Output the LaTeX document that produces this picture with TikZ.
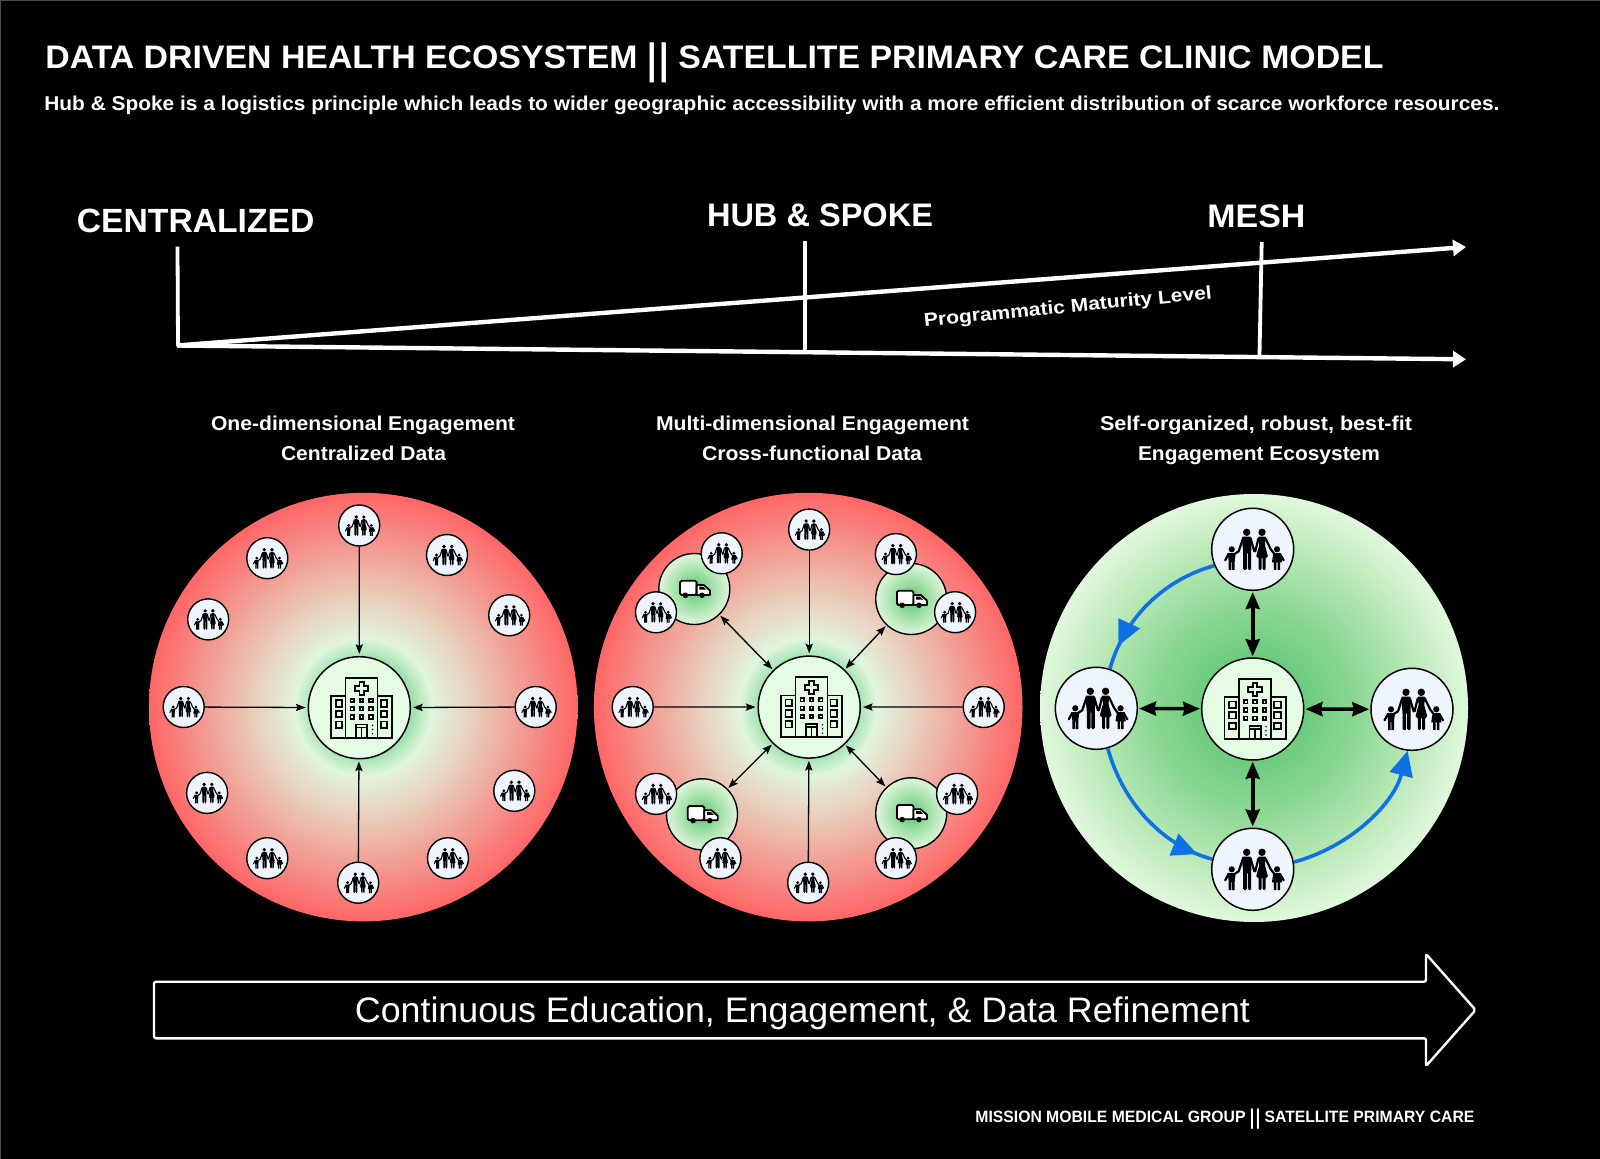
\documentclass[tikz,border=0pt]{standalone}
\usepackage{graphicx}
\usepackage{fontspec}
\setmainfont{Liberation Sans}
\usetikzlibrary{arrows.meta,decorations.markings}
\definecolor{rA}{HTML}{A2E2B0}\definecolor{rB}{HTML}{B4E8BE}\definecolor{rC}{HTML}{E0F5DE}
\definecolor{rD}{HTML}{E3EBD6}\definecolor{rE}{HTML}{E8D3BF}\definecolor{rF}{HTML}{F4918A}\definecolor{rG}{HTML}{FF6666}
\definecolor{gA}{HTML}{62C878}\definecolor{gB}{HTML}{6CCB7E}\definecolor{gC}{HTML}{8AD792}\definecolor{gD}{HTML}{B0E5B0}\definecolor{gF}{HTML}{D0F1CC}\definecolor{gE}{HTML}{E0F8DC}
\definecolor{sA}{HTML}{58C472}\definecolor{sB}{HTML}{A0E0A8}\definecolor{sC}{HTML}{DFF6DA}
\definecolor{hubfill}{HTML}{E4FBE4}\definecolor{famfill}{HTML}{EEF5FF}\definecolor{flowblue}{HTML}{1070E4}
\pgfdeclareradialshading{redfield}{\pgfpoint{0bp}{0bp}}{color(0bp)=(rA);color(5.95bp)=(rA);color(6.45bp)=(rB);color(8bp)=(rC);color(9.2bp)=(rD);color(12.25bp)=(rE);color(19.85bp)=(rF);color(25bp)=(rG);color(50bp)=(rG)}
\pgfdeclareradialshading{greenfield}{\pgfpoint{0bp}{0bp}}{color(0bp)=(gA);color(6bp)=(gB);color(11.7bp)=(gC);color(17.5bp)=(gD);color(22.2bp)=(gF);color(25bp)=(gE);color(50bp)=(gE)}
\pgfdeclareradialshading{satfield}{\pgfpoint{0bp}{0bp}}{color(0bp)=(sA);color(12.5bp)=(sB);color(25bp)=(sC);color(50bp)=(sC)}
\newcommand\fitw[3]{\fontsize{#1}{#1}\selectfont\bfseries\resizebox{#2}{\height}{#3}}
\newcommand\tallbars{\raisebox{-.17em}{\scalebox{1}[1.3]{|\kern.09em|}}}
\tikzset{
  lab/.style={text=white,inner sep=0pt,anchor=base west},
  clab/.style={text=white,inner sep=0pt,anchor=base},
  redbig/.style={circle,shading=redfield,minimum size=214.3pt,inner sep=0pt},
  greenbig/.style={circle,shading=greenfield,minimum size=214pt,inner sep=0pt},
  sat/.style={circle,shading=satfield,draw=black,line width=.7pt,minimum size=35.5pt,inner sep=0pt},
  hubnode/.style={circle,draw=black,fill=hubfill,line width=.75pt,minimum size=51pt,inner sep=0pt},
  famS/.style={circle,draw=black,fill=famfill,line width=.7pt,minimum size=20.5pt,inner sep=0pt},
  famL/.style={circle,draw=black,fill=famfill,line width=.75pt,minimum size=41pt,inner sep=0pt},
  thin arrow/.style={draw=black,line width=.65pt,-{Stealth[length=4.8pt,width=3.6pt,inset=.8pt]},shorten >=1pt},
  thin both/.style={draw=black,line width=.65pt,{Stealth[length=4.8pt,width=3.6pt,inset=.8pt]}-{Stealth[length=4.8pt,width=3.6pt,inset=.8pt]},shorten >=.6pt,shorten <=.6pt},
  thick both/.style={draw=black,line width=1.8pt,{Stealth[length=8.5pt,width=7pt,inset=.8pt]}-{Stealth[length=8.5pt,width=7pt,inset=.8pt]},shorten >=.5pt,shorten <=.5pt},
  flow/.style={draw=flowblue,line width=1.8pt},
  whitearrow/.style={draw=white,line width=2.2pt,-{Triangle[length=6.5pt,width=8pt]}},
  whitetick/.style={draw=white,line width=1.9pt},
  pics/family/.style={code={
    \fill (-6,-17) circle (3.7) (9.3,-17) circle (3.7) (-21,0) circle (3.1) (24.3,0) circle (3.1);
    % man
    \fill[rounded corners=.6pt] (-11,-12.6) -- (-1.2,-12.6) -- (-1.5,3) -- (-1.5,20.7) -- (-4.9,20.7) -- (-4.9,3) -- (-5.8,3) -- (-5.8,20.7) -- (-9.5,20.7) -- (-9.5,3) -- cycle;
    % woman
    \fill[rounded corners=.6pt] (5,-12.6) -- (13.8,-12.6) -- (12,-5) -- (15.5,8) -- (13,8) -- (13,20.7) -- (10,20.7) -- (10,8) -- (8.9,8) -- (8.9,20.7) -- (5.8,20.7) -- (5.8,8) -- (3.2,8) -- (6.8,-5) -- cycle;
    % left child
    \fill (-25,3.8) -- (-17,3.8) -- (-18,12) -- (-18,20.7) -- (-20.6,20.7) -- (-20.6,13) -- (-21.4,13) -- (-21.4,20.7) -- (-24,20.7) -- (-24,12) -- cycle;
    % right child
    \fill (20.6,3.8) -- (28,3.8) -- (29.5,13) -- (27.4,13) -- (27.4,20.7) -- (24.9,20.7) -- (24.9,13) -- (23.7,13) -- (23.7,20.7) -- (21.2,20.7) -- (21.2,13) -- (19.2,13) -- cycle;
    % arms
    \draw[line width=#1,line cap=round,line join=round] (-24,4.5) -- (-27.5,11) (-18,4.5) -- (-14,2) -- (-9.9,-10.5) (-2,-10.5) -- (1.6,2) (5.6,-10.5) -- (2.6,2) (13,-10.5) -- (18,0) -- (21.5,4.5) (27.2,4.5) -- (31,11);
  }},
  pics/hospital/.style={code={
    \begin{scope}[line width=.85pt,draw=black]
    \draw (-28.3,-11.7) rectangle (-13.7,30);
    \draw (-13.7,-30) rectangle (18.3,30);
    \draw (18.3,-11.7) rectangle (33,30);
    \draw (.1,-26) -- (4.5,-26) -- (4.5,-21.8) -- (9,-21.8) -- (9,-17) -- (4.5,-17) -- (4.5,-12.8) -- (.1,-12.8) -- (.1,-17) -- (-4.4,-17) -- (-4.4,-21.8) -- (.1,-21.8) -- cycle;
    \foreach \wy in {-4.3,6.3,17}{\draw (-23.6,\wy-3.3) rectangle (-17,\wy+3.3);\draw (21.4,\wy-3.3) rectangle (28,\wy+3.3);}
    \foreach \wx in {-7,2.3,11.7}{\foreach \wy in {-7.3,1,9.3}{\draw (\wx-1.7,\wy-1.7) rectangle (\wx+1.7,\wy+1.7);}}
    \draw (-3.3,30) -- (-3.3,16.7) -- (8,16.7) -- (8,30) (-3.3,19.8) -- (8,19.8) (2.3,19.8) -- (2.3,30);
    \fill (13.3,17.7) circle (.8) (13.3,21.7) circle (.8) (13.3,26) circle (.8);
    \end{scope}
  }},
  pics/truck/.style={code={
    \draw[line width=.9pt,fill=white,rounded corners=.8pt] (-14.3,-8.3) rectangle (2.3,6);
    \draw[line width=.9pt,fill=white,line join=round] (2.3,6) -- (2.3,-4) -- (9.5,-4) -- (15.7,1.5) -- (15.7,6) -- cycle;
    \fill (5,-2.3) -- (8.8,-2.3) -- (12,.6) -- (5,.6) -- cycle;
    \fill (-9,6.3) circle (2.8) (7.7,6.3) circle (2.8);
  }}
}
\begin{document}
\begin{tikzpicture}[x=.5pt,y=-.5pt]
\useasboundingbox (0,0) rectangle (1600,1159);
\fill[black] (0,0) rectangle (1600,1159);
\fill[black!70!white] (0,0) rectangle (1600,1) (0,0) rectangle (1,1159);

% headings
\node[lab] (title) at (45,68.3) {\fitw{16.3pt}{669pt}{DATA DRIVEN HEALTH ECOSYSTEM \tallbars{} SATELLITE PRIMARY CARE CLINIC MODEL}};
\node[lab] (sub) at (44,111) {\fitw{10pt}{727.5pt}{Hub \& Spoke is a logistics principle which leads to wider geographic accessibility with a more efficient distribution of scarce workforce resources.}};
\node[lab] (lcent) at (76.5,233) {\fitw{16.8pt}{118.75pt}{CENTRALIZED}};
\node[lab] (lhub) at (706.6,227) {\fitw{16.3pt}{113pt}{HUB \& SPOKE}};
\node[lab] (lmesh) at (1207,228) {\fitw{16.3pt}{49pt}{MESH}};

% maturity wedge
\coordinate (w0) at (177,345.5);
\coordinate (wu) at (1466,247);
\coordinate (wl) at (1466,359.3);
\coordinate (c1t) at (177.5,246.7); \coordinate (c1b) at (178,346);
\coordinate (c2t) at (805,240.7);   \coordinate (c2b) at (805,351);
\coordinate (c3t) at (1261.7,242);  \coordinate (c3b) at (1259.5,355);
\draw[whitearrow] (w0) -- (wu);
\draw[whitearrow] (w0) -- (wl);
\draw[whitetick] (c1t) -- (c1b);
\draw[whitetick] (c2t) -- (c2b);
\draw[whitetick] (c3t) -- (c3b);
\node[text=white,inner sep=0pt,rotate=5.5] (lmat) at (1068,308) {\fitw{9.3pt}{144.5pt}{Programmatic Maturity Level}};

% column captions
\node[clab] (a1) at (363,431) {\fitw{10pt}{152pt}{One-dimensional Engagement}};
\node[clab] (a2) at (363.5,460.7) {\fitw{10pt}{82.5pt}{Centralized Data}};
\node[clab] (b1) at (812.5,431) {\fitw{10pt}{156.5pt}{Multi-dimensional Engagement}};
\node[clab] (b2) at (812,460.7) {\fitw{10pt}{110pt}{Cross-functional Data}};
\node[clab] (d1) at (1256,431) {\fitw{10pt}{156pt}{Self-organized, robust, best-fit}};
\node[clab] (d2) at (1259,460.7) {\fitw{10pt}{121pt}{Engagement Ecosystem}};

% circle 1: centralized
\node[redbig] (fieldA) at (363.3,707.1) {};
\node[hubnode] (hubA) at (359.3,707.7) {};
\pic at (hubA) {hospital};
\foreach \n/\x/\y in {At/359.2/525.5,Ab/447/555,Ac/509.2/615.3,Ar/535.7/707,Ad/514.3/790.8,Ae/448/858.2,Abt/358.2/882.7,Af/267.3/858.2,Ag/207.1/792.9,Al/183.7/707,Ah/208.2/619.4,Ai/267.3/558.2}{
  \node[famS] (\n) at (\x,\y) {};
  \pic[scale=.5] at (\n) {family=.55pt};
}
\draw[thin arrow] (At) -- (hubA);
\draw[thin arrow] (Ar) -- (hubA);
\draw[thin arrow] (Abt) -- (hubA);
\draw[thin arrow] (Al) -- (hubA);

% circle 2: hub and spoke
\node[redbig] (fieldB) at (808.2,707.1) {};
\foreach \n/\x/\y in {S1/694.3/589,S2/911.2/599,S3/702/814.3,S4/911.2/813.3}{
  \node[sat] (\n) at (\x,\y) {};
  \pic at (\n) {truck};
}
\node[hubnode] (hubB) at (809.2,707.1) {};
\pic at (hubB) {hospital};
\foreach \n/\x/\y in {Bt/809.2/529.6,Br/983.7/707,Bb/808.2/882.7,Bl/632.7/707,P1/721.7/553.3,P2/656/612.3,P3/895.9/554.1,P4/955.1/612.2,P5/656.1/793.9,P6/720.4/858.2,P7/957.1/793.9,P8/895.9/858.2}{
  \node[famS] (\n) at (\x,\y) {};
  \pic[scale=.5] at (\n) {family=.55pt};
}
\draw[thin arrow] (Bt) -- (hubB);
\draw[thin arrow] (Br) -- (hubB);
\draw[thin arrow] (Bb) -- (hubB);
\draw[thin arrow] (Bl) -- (hubB);
\draw[thin both] (S1) -- (hubB);
\draw[thin both] (S2) -- (hubB);
\draw[thin both] (S3) -- (hubB);
\draw[thin both] (S4) -- (hubB);

% circle 3: mesh
\node[greenbig] (fieldC) at (1254,708) {};
\node[hubnode] (hubC) at (1252.7,709) {};
\pic at (hubC) {hospital};
\foreach \n/\x/\y in {Ct/1252.7/549.3,Cl/1096.3/708.3,Cr/1412/709.3,Cb/1252.7/869.3}{
  \node[famL] (\n) at (\x,\y) {};
  \pic at (\n) {family=1.1pt};
}
\draw[thick both] (Ct) -- (hubC);
\draw[thick both] (Cl) -- (hubC);
\draw[thick both] (Cr) -- (hubC);
\draw[thick both] (Cb) -- (hubC);
\draw[flow,decoration={markings,mark=at position .84 with {\arrow{Triangle[length=12.5pt,width=11.5pt]}}},postaction={decorate}]
  (Ct.203) .. controls (1163.3,579.9) and (1124.2,618.3) .. (Cl.71);
\draw[flow,decoration={markings,mark=at position .9 with {\arrow{Triangle[length=12.5pt,width=11.5pt]}}},postaction={decorate}]
  (Cl.286) .. controls (1122,800.2) and (1159.9,844.7) .. (Cb.166);
\draw[flow,-{Triangle[length=12.5pt,width=11.5pt]}]
  (Cb.10) .. controls (1348.4,847.5) and (1393.1,805.3) .. (Cr.264);

% continuous band
\draw[white,line width=1.2pt,line join=round,rounded corners=1pt] (154,981.7) -- (1426,981.7) -- (1426,954) -- (1475.6,1010) -- (1426,1066) -- (1426,1038.3) -- (154,1038.3) -- cycle;
\node[text=white,inner sep=0pt,anchor=base] (band) at (802.5,1022.7) {\fontsize{17.7pt}{18pt}\selectfont\resizebox{447.5pt}{\height}{Continuous Education, Engagement, \& Data Refinement}};

% footer
\node[lab] (foot) at (975,1122) {\fitw{8.2pt}{249.5pt}{MISSION MOBILE MEDICAL GROUP \tallbars{} SATELLITE PRIMARY CARE}};
\end{tikzpicture}
\end{document}
